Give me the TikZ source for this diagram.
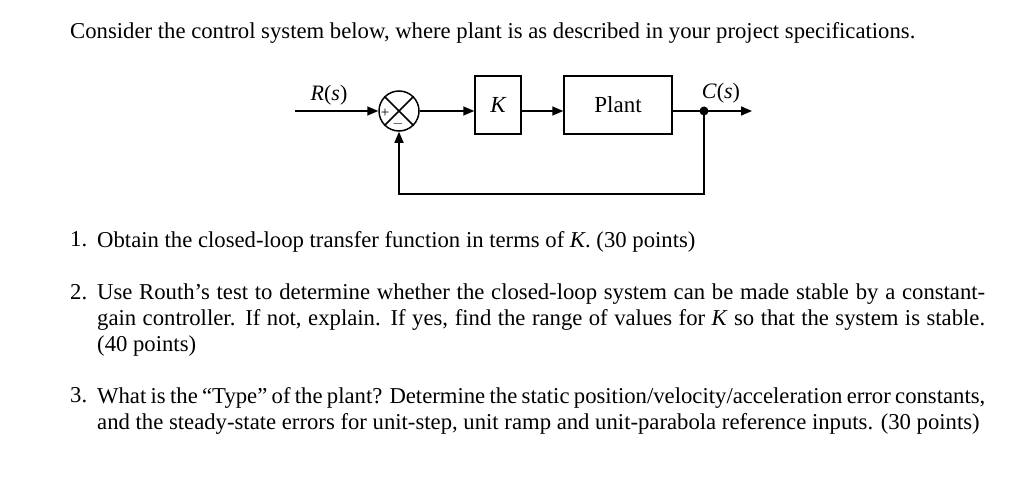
\documentclass[tikz,border=0pt]{standalone}
\usepackage{fontspec}
\setmainfont{Liberation Serif}
\usetikzlibrary{arrows.meta}
\begin{document}
\begin{tikzpicture}[x=1pt,y=-1pt,
  blk/.style={draw,line width=1.5pt,minimum height=58pt,inner sep=0pt},
  lnk/.style={line width=1.5pt,-{Triangle[length=11pt,width=9pt]}},
  txt/.style={anchor=base west,inner sep=0pt,font=\fontsize{22.7}{26}\selectfont},
  par/.style={txt,anchor=north west,text width=888pt,align=justify}]
\useasboundingbox (0,0) rectangle (1024,476);
\node[txt] (title) at (70,39) {Consider the control system below, where plant is as described in your project specifications.};
\node[draw,circle,line width=1.5pt,minimum size=40pt,inner sep=0pt] (sum) at (399,111) {};
\draw[line width=1.5pt] (sum.north west)--(sum.south east) (sum.north east)--(sum.south west);
\node[font=\fontsize{15}{15}\selectfont,inner sep=0pt] (plus) at (385,113) {+};
\node[font=\fontsize{15}{15}\selectfont,inner sep=0pt] (minus) at (398,124) {$-$};
\node[blk,minimum width=46pt,font=\fontsize{23}{23}\selectfont\itshape] (K) at (498,105) {K};
\node[blk,minimum width=108pt,font=\fontsize{23}{23}\selectfont] (P) at (618,105) {Plant};
\coordinate (in) at (295,111);
\coordinate (out) at (752,111);
\coordinate (br) at (704,194);
\coordinate (bl) at (399,194);
\fill (704,111) circle (4.5pt) coordinate (dot);
\node[font=\fontsize{22}{22}\selectfont,inner sep=0pt] (R) at (329,95) {\textit{R}(\textit{s})};
\node[font=\fontsize{22}{22}\selectfont,inner sep=0pt] (C) at (721,93) {\textit{C}(\textit{s})};
\draw[lnk] (in) -- (sum.west);
\draw[lnk] (sum.east) -- (K.west |- sum);
\draw[lnk] (K.east |- sum) -- (P.west |- sum);
\draw[lnk] (P.east |- sum) -- (out);
\draw[lnk] (dot) -- (br) -- (bl) -- (sum.south);
\node[par,text width=20pt,align=left] (n1) at (70,231) {1.};
\node[par] (i1) at (97,231) {Obtain the closed-loop transfer function in terms of \textit{K}. (30 points)};
\node[par,text width=20pt,align=left] (n2) at (70,284) {2.};
\node[par] (i2) at (97,284) {Use Routh's test to determine whether the closed-loop system can be made stable by a constant-gain controller. If not, explain. If yes, find the range of values for \textit{K} so that the system is stable. (40 points)};
\node[par,text width=20pt,align=left] (n3) at (70,387) {3.};
\node[par] (i3) at (97,387) {What is the ``Type'' of the plant? Determine the static position/velocity/acceleration error constants, and the steady-state errors for unit-step, unit ramp and unit-parabola reference inputs. (30 points)};
\end{tikzpicture}
\end{document}
